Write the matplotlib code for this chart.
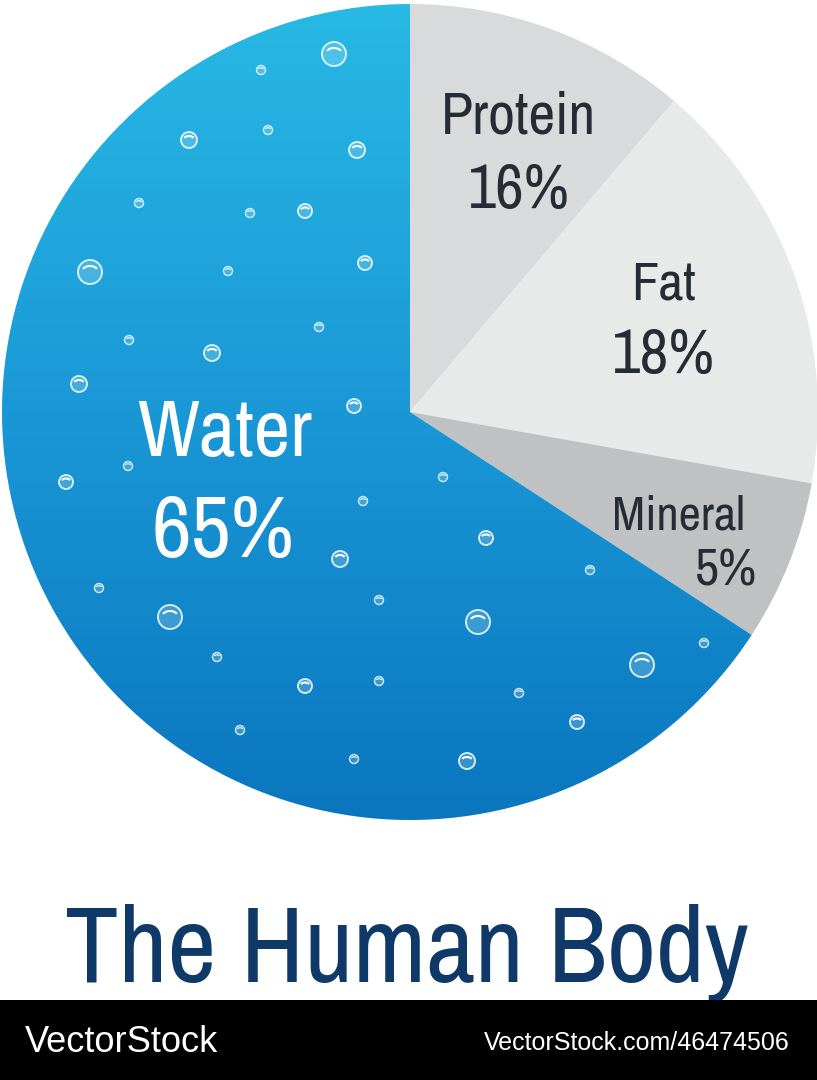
import numpy as np
import matplotlib.pyplot as plt
from matplotlib import font_manager
from matplotlib.patches import Wedge, Circle, Arc, Rectangle
from matplotlib.colors import LinearSegmentedColormap

# pie slices, clockwise from 12 o'clock (shares)
labels = ['Protein', 'Fat', 'Mineral', 'Water']
label_pct = ['16%', '18%', '5%', '65%']
shares = [11.2, 16.6, 6.4, 65.8]
slice_colors = ['#d9dadb', '#e8e9e9', '#bfc1c2', None]

# decorative water bubbles (x px, y px from top, radius px)
bubble_x = [334, 261, 189, 268, 357, 139, 250, 305, 90, 228, 365, 319, 129, 212, 79, 354,
            128, 66, 443, 363, 486, 340, 590, 99, 170, 379, 478, 217, 642, 704, 305, 379,
            519, 577, 240, 354, 467]
bubble_y = [54, 70, 140, 130, 150, 203, 213, 211, 272, 271, 263, 327, 340, 353, 384, 406,
            466, 482, 477, 501, 538, 559, 570, 588, 617, 600, 622, 657, 665, 643, 686, 681,
            693, 722, 730, 759, 761]
bubble_r = [12, 4.5, 8, 4.5, 8, 4.5, 4.5, 7, 12, 4.5, 7, 4.5, 4.5, 8, 8, 7,
            4.5, 7, 4.5, 4.5, 7, 8, 4.5, 4.5, 12, 4.5, 12, 4.5, 12, 4.5, 7, 4.5,
            4.5, 7, 4.5, 4.5, 8]

W, H = 817, 1080
fig = plt.figure(figsize=(W / 100, H / 100), dpi=100)
ax = fig.add_axes([0, 0, 1, 1])
ax.set_xlim(0, W)
ax.set_ylim(0, H)
ax.axis('off')

# pick the narrowest installed sans we can find
installed = {f.name: f for f in font_manager.fontManager.ttflist}
narrow_name, narrow_stretch = 'DejaVu Sans', 'normal'
for f in font_manager.fontManager.ttflist:
    if 'Narrow' in f.name or 'Condensed' in f.name:
        narrow_name, narrow_stretch = f.name, f.stretch
        break
else:
    for f in font_manager.fontManager.ttflist:
        if f.name in ('DejaVu Sans', 'Roboto', 'Open Sans', 'Noto Sans') and f.stretch not in ('normal', 500):
            narrow_name, narrow_stretch = f.name, f.stretch
            break
narrow = [narrow_name, 'DejaVu Sans']

cx, cy, r = 410, H - 412, 408

angle = 90.0
water_wedge = None
for lab, share, col in zip(labels, shares, slice_colors):
    span = share / 100 * 360
    t1, t2 = angle - span, angle
    if col is None:
        water_wedge = Wedge((cx, cy), r, t1, t2, facecolor='none', edgecolor='none')
        ax.add_patch(water_wedge)
    else:
        ax.add_patch(Wedge((cx, cy), r, t1, t2, facecolor=col, edgecolor='none'))
    angle = t1

# water gradient clipped to its wedge
cmap = LinearSegmentedColormap.from_list('water', ['#0a76bf', '#1a98d6', '#28b9e4'])
grad = np.linspace(0, 1, 256).reshape(-1, 1)
img = ax.imshow(grad, cmap=cmap, extent=[cx - r, cx + r, cy - r, cy + r],
                origin='lower', aspect='auto', zorder=1)
img.set_clip_path(water_wedge)

for bx, by, br in zip(bubble_x, bubble_y, bubble_r):
    yy = H - by
    ax.add_patch(Circle((bx, yy), br, facecolor='white', alpha=0.18, edgecolor='none', zorder=3))
    ax.add_patch(Circle((bx, yy), br, facecolor='none', edgecolor='#e8f6fc',
                        lw=1.4 if br > 6 else 1.0, alpha=0.9, zorder=3))
    ax.add_patch(Arc((bx, yy + br * 0.05), br * 1.3, br * 0.9, theta1=20, theta2=160,
                     color='white', lw=1.5 if br > 6 else 0.8, zorder=4))

renderer = fig.canvas.get_renderer()


def fit_text(x, y_top, s, width, cap, color, ha='center', family=None, stretch=None, zorder=5):
    # y_top is the baseline in pixels from the top; size chosen to match width, capped by cap height
    fam = family or narrow
    t = ax.text(x, H - y_top, s, color=color, fontsize=20, family=fam,
                fontstretch=stretch or narrow_stretch, ha=ha, va='baseline', zorder=zorder)
    w = t.get_window_extent(renderer).width
    size = 20 * width / w
    max_size = cap / 0.73 * 72 / 100
    t.set_fontsize(min(size, max_size))
    return t


dark = '#262b35'
fit_text(225, 456, 'Water', 175, 69, 'white')
fit_text(223, 557, '65%', 143, 71, 'white')
fit_text(518, 133, 'Protein', 155, 51, dark)
fit_text(519, 208, '16%', 102, 53, dark)
fit_text(663, 300, 'Fat', 65, 50, dark)
fit_text(663, 373, '18%', 103, 53, dark)
fit_text(678, 530, 'Mineral', 133, 43, dark)
fit_text(757, 585, '5%', 62, 45, dark, ha='right')

fit_text(407, 982, 'The Human Body', 683, 102, '#0f3a68')

# watermark band
ax.add_patch(Rectangle((0, 0), W, 80, facecolor='black', edgecolor='none', zorder=6))
fit_text(25, 1052, 'VectorStock', 193, 30, 'white', ha='left', family=['Liberation Sans', 'DejaVu Sans'],
         stretch='normal', zorder=7)
fit_text(790, 1050, 'VectorStock.com/46474506', 305, 24, 'white', ha='right',
         family=['Liberation Sans', 'DejaVu Sans'], stretch='normal', zorder=7)

fig.savefig('out.png', dpi=100, facecolor='white')
